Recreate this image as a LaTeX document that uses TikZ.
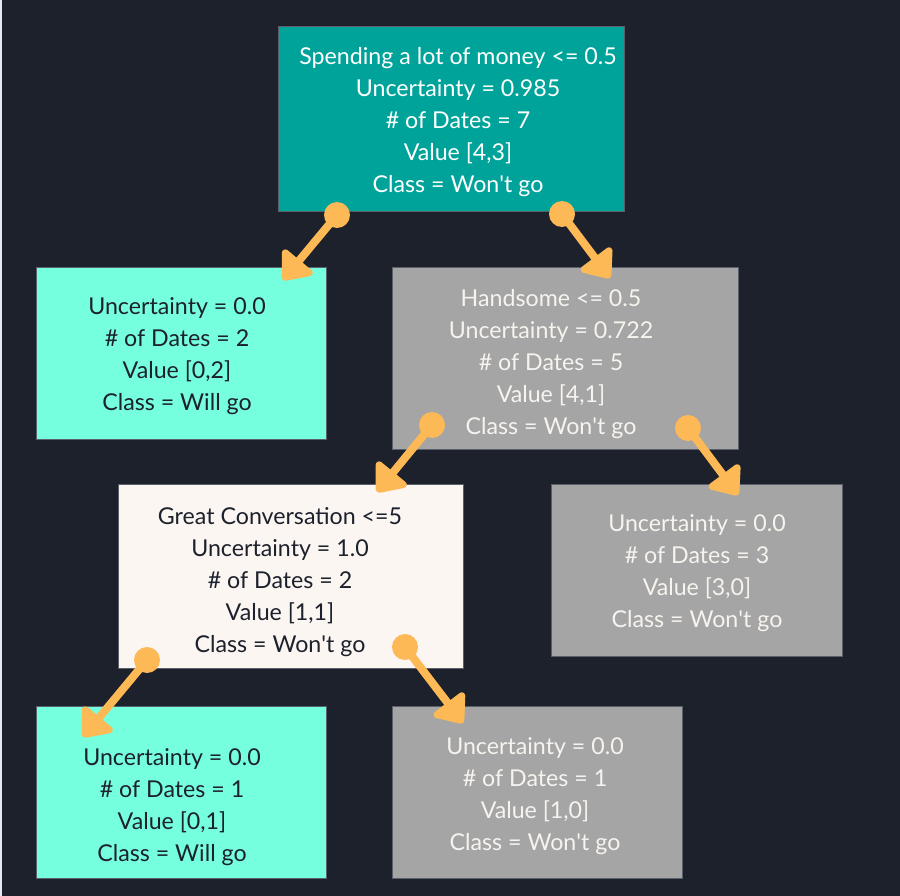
\documentclass[tikz,border=0pt]{standalone}
\usepackage{fontspec}
\setmainfont{Lato}
\usetikzlibrary{arrows.meta}
\definecolor{bgc}{HTML}{1C212B}
\definecolor{tealc}{HTML}{00A39A}
\definecolor{aquac}{HTML}{75FFDF}
\definecolor{grayc}{HTML}{A5A5A5}
\definecolor{offc}{HTML}{FCF6F3}
\definecolor{orangec}{HTML}{FDB955}
\definecolor{lighttxt}{HTML}{F7F3EF}
\definecolor{darktxt}{HTML}{1C212B}
\definecolor{edgec}{HTML}{5A606B}
\definecolor{stripc}{HTML}{E6EAEE}
\newcommand\wg{Won\textquotesingle t go}
\tikzset{
  box/.style={rectangle, draw=edgec, line width=0.8pt, inner sep=0pt, anchor=north west},
  txt/.style={align=center, font=\fontsize{23.2}{32}\selectfont, inner sep=0pt},
  conn/.style={draw=orangec, line width=8pt, -{Triangle[length=28pt,width=44pt,round]}},
  dot/.style={circle, fill=orangec, minimum size=26pt, inner sep=0pt},
}
\begin{document}
\begin{tikzpicture}[x=1pt,y=-1pt]
\useasboundingbox (0,0) rectangle (900,896);
\fill[bgc] (0,0) rectangle (900,896);
\fill[stripc] (0,0) rectangle (2,896);
% boxes
\node[box, fill=tealc, minimum width=346pt, minimum height=185pt] (root) at (278,26) {};
\node[box, fill=aquac, minimum width=290pt, minimum height=172pt] (l1) at (36,267) {};
\node[box, fill=grayc, minimum width=346pt, minimum height=182pt] (hs) at (392,267) {};
\node[box, fill=offc, minimum width=345pt, minimum height=184pt] (gc) at (118,484) {};
\node[box, fill=grayc, minimum width=291pt, minimum height=172pt] (rl) at (551,484) {};
\node[box, fill=aquac, minimum width=290pt, minimum height=172pt] (bl) at (36,706) {};
\node[box, fill=grayc, minimum width=290pt, minimum height=172pt] (br) at (392,706) {};
% texts
\node[txt, text=white] (troot) at (458,122) {Spending a lot of money <= 0.5\\Uncertainty = 0.985\\\# of Dates = 7\\Value [4,3]\\Class = \wg};
\node[txt, text=darktxt] (tl1) at (177,356) {Uncertainty = 0.0\\\# of Dates = 2\\Value [0,2]\\Class = Will go};
\node[txt, text=lighttxt] (ths) at (551,364) {Handsome <= 0.5\\Uncertainty = 0.722\\\# of Dates = 5\\Value [4,1]\\Class = \wg};
\node[txt, text=darktxt] (tgc) at (280,582) {Great Conversation <=5\\Uncertainty = 1.0\\\# of Dates = 2\\Value [1,1]\\Class = \wg};
\node[txt, text=lighttxt] (trl) at (697,573) {Uncertainty = 0.0\\\# of Dates = 3\\Value [3,0]\\Class = \wg};
\node[txt, text=darktxt] (tbl) at (172,807) {Uncertainty = 0.0\\\# of Dates = 1\\Value [0,1]\\Class = Will go};
\node[txt, text=lighttxt] (tbr) at (535,796) {Uncertainty = 0.0\\\# of Dates = 1\\Value [1,0]\\Class = \wg};
% connector end points
\coordinate (d1) at (337,215); \coordinate (e1) at (283,280);
\coordinate (d2) at (562,214); \coordinate (e2) at (610,278);
\coordinate (d3) at (432,425); \coordinate (e3) at (377,492);
\coordinate (d4) at (688,428); \coordinate (e4) at (738,495);
\coordinate (d5) at (147,660); \coordinate (e5) at (83,737);
\coordinate (d6) at (405,647); \coordinate (e6) at (463,723);
\foreach \i in {1,...,6}{
  \draw[conn] (d\i) -- (e\i);
  \node[dot] (dot\i) at (d\i) {};
}
\end{tikzpicture}
\end{document}
